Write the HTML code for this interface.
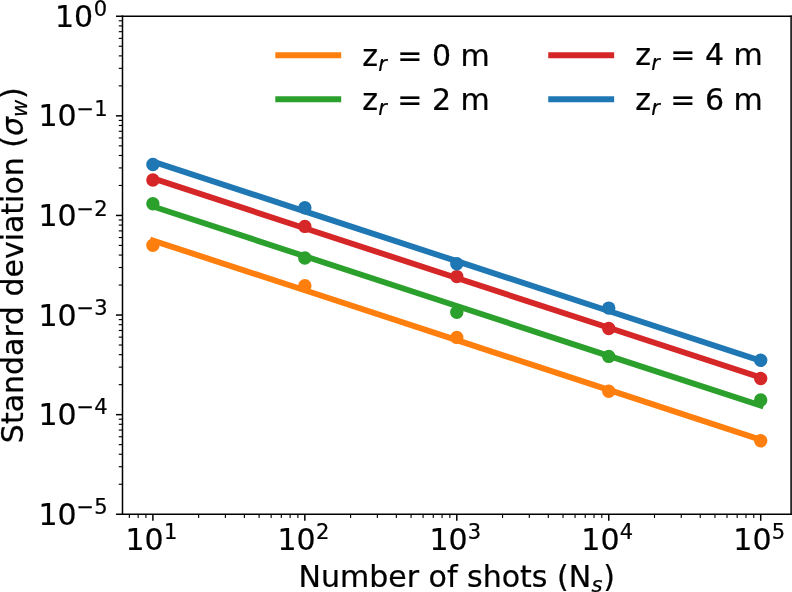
<!DOCTYPE html>
<html><head><meta charset="utf-8"><title>Standard deviation vs number of shots</title>
<style>html,body{margin:0;padding:0;background:#fff;width:792px;height:592px;overflow:hidden}svg{display:block}text{font-family:"DejaVu Sans",sans-serif;stroke:#000;stroke-width:0.13px}</style>
</head><body>
<svg width="792" height="592" viewBox="0 0 422.4 315.733333" version="1.1">
<defs>
<style type="text/css">*{stroke-linejoin: round; stroke-linecap: butt}</style>
</defs>
<g id="figure_1">
<g id="patch_1">
<path d="M 0 315.733333  L 422.4 315.733333  L 422.4 0  L 0 0  z " style="fill: #ffffff" />
</g>
<g id="axes_1">
<g id="patch_2">
<path d="M 65.333333 274.266667  L 421.92 274.266667  L 421.92 8.666667  L 65.333333 8.666667  z " style="fill: #ffffff" />
</g>
<g id="matplotlib.axis_1">
<g id="xtick_1">
<g id="line2d_1">
<g>
<path d="M 0 0  L 0 3.5  " transform="translate(81.541818 274.266667)" style="stroke: #000000; stroke-width: 0.8" /></g>
</g>
<g id="text_1" transform="translate(-0.5333 0.4800)">
<g transform="translate(67.461818 293.424167)">
<text>
<tspan x="0" y="-0.704688" style="font-size: 16px; font-family: 'DejaVu Sans'">1</tspan>
<tspan x="10.179688" y="-0.704688" style="font-size: 16px; font-family: 'DejaVu Sans'">0</tspan>
<tspan x="20.5125" y="-6.5630" style="font-size: 11.2px; font-family: 'DejaVu Sans'">1</tspan>
</text>
</g>
</g>
</g>
<g id="xtick_2">
<g id="line2d_2">
<g>
<path d="M 0 0  L 0 3.5  " transform="translate(162.584242 274.266667)" style="stroke: #000000; stroke-width: 0.8" /></g>
</g>
<g id="text_2" transform="translate(-0.5333 0.4800)">
<g transform="translate(148.504242 293.424167)">
<text>
<tspan x="0" y="-0.5625" style="font-size: 16px; font-family: 'DejaVu Sans'">1</tspan>
<tspan x="10.179688" y="-0.5625" style="font-size: 16px; font-family: 'DejaVu Sans'">0</tspan>
<tspan x="20.5125" y="-6.4208" style="font-size: 11.2px; font-family: 'DejaVu Sans'">2</tspan>
</text>
</g>
</g>
</g>
<g id="xtick_3">
<g id="line2d_3">
<g>
<path d="M 0 0  L 0 3.5  " transform="translate(243.626667 274.266667)" style="stroke: #000000; stroke-width: 0.8" /></g>
</g>
<g id="text_3" transform="translate(-0.5333 0.4800)">
<g transform="translate(229.546667 293.424167)">
<text>
<tspan x="0" y="-0.5625" style="font-size: 16px; font-family: 'DejaVu Sans'">1</tspan>
<tspan x="10.179688" y="-0.5625" style="font-size: 16px; font-family: 'DejaVu Sans'">0</tspan>
<tspan x="20.5125" y="-6.4208" style="font-size: 11.2px; font-family: 'DejaVu Sans'">3</tspan>
</text>
</g>
</g>
</g>
<g id="xtick_4">
<g id="line2d_4">
<g>
<path d="M 0 0  L 0 3.5  " transform="translate(324.669091 274.266667)" style="stroke: #000000; stroke-width: 0.8" /></g>
</g>
<g id="text_4" transform="translate(-0.5333 0.4800)">
<g transform="translate(310.589091 293.424167)">
<text>
<tspan x="0" y="-0.704688" style="font-size: 16px; font-family: 'DejaVu Sans'">1</tspan>
<tspan x="10.179688" y="-0.704688" style="font-size: 16px; font-family: 'DejaVu Sans'">0</tspan>
<tspan x="20.5125" y="-6.5630" style="font-size: 11.2px; font-family: 'DejaVu Sans'">4</tspan>
</text>
</g>
</g>
</g>
<g id="xtick_5">
<g id="line2d_5">
<g>
<path d="M 0 0  L 0 3.5  " transform="translate(405.711515 274.266667)" style="stroke: #000000; stroke-width: 0.8" /></g>
</g>
<g id="text_5" transform="translate(-0.5333 0.4800)">
<g transform="translate(391.631515 293.424167)">
<text>
<tspan x="0" y="-0.704688" style="font-size: 16px; font-family: 'DejaVu Sans'">1</tspan>
<tspan x="10.179688" y="-0.704688" style="font-size: 16px; font-family: 'DejaVu Sans'">0</tspan>
<tspan x="20.5125" y="-6.5630" style="font-size: 11.2px; font-family: 'DejaVu Sans'">5</tspan>
</text>
</g>
</g>
</g>
<g id="xtick_6">
<g id="line2d_6">
<g>
<path d="M 0 0  L 0 2  " transform="translate(68.988188 274.266667)" style="stroke: #000000; stroke-width: 0.6" /></g>
</g>
</g>
<g id="xtick_7">
<g id="line2d_7">
<g>
<path d="M 0 0  L 0 2  " transform="translate(73.687996 274.266667)" style="stroke: #000000; stroke-width: 0.6" /></g>
</g>
</g>
<g id="xtick_8">
<g id="line2d_8">
<g>
<path d="M 0 0  L 0 2  " transform="translate(77.83352 274.266667)" style="stroke: #000000; stroke-width: 0.6" /></g>
</g>
</g>
<g id="xtick_9">
<g id="line2d_9">
<g>
<path d="M 0 0  L 0 2  " transform="translate(105.938019 274.266667)" style="stroke: #000000; stroke-width: 0.6" /></g>
</g>
</g>
<g id="xtick_10">
<g id="line2d_10">
<g>
<path d="M 0 0  L 0 2  " transform="translate(120.208881 274.266667)" style="stroke: #000000; stroke-width: 0.6" /></g>
</g>
</g>
<g id="xtick_11">
<g id="line2d_11">
<g>
<path d="M 0 0  L 0 2  " transform="translate(130.334219 274.266667)" style="stroke: #000000; stroke-width: 0.6" /></g>
</g>
</g>
<g id="xtick_12">
<g id="line2d_12">
<g>
<path d="M 0 0  L 0 2  " transform="translate(138.188042 274.266667)" style="stroke: #000000; stroke-width: 0.6" /></g>
</g>
</g>
<g id="xtick_13">
<g id="line2d_13">
<g>
<path d="M 0 0  L 0 2  " transform="translate(144.605082 274.266667)" style="stroke: #000000; stroke-width: 0.6" /></g>
</g>
</g>
<g id="xtick_14">
<g id="line2d_14">
<g>
<path d="M 0 0  L 0 2  " transform="translate(150.030612 274.266667)" style="stroke: #000000; stroke-width: 0.6" /></g>
</g>
</g>
<g id="xtick_15">
<g id="line2d_15">
<g>
<path d="M 0 0  L 0 2  " transform="translate(154.73042 274.266667)" style="stroke: #000000; stroke-width: 0.6" /></g>
</g>
</g>
<g id="xtick_16">
<g id="line2d_16">
<g>
<path d="M 0 0  L 0 2  " transform="translate(158.875944 274.266667)" style="stroke: #000000; stroke-width: 0.6" /></g>
</g>
</g>
<g id="xtick_17">
<g id="line2d_17">
<g>
<path d="M 0 0  L 0 2  " transform="translate(186.980443 274.266667)" style="stroke: #000000; stroke-width: 0.6" /></g>
</g>
</g>
<g id="xtick_18">
<g id="line2d_18">
<g>
<path d="M 0 0  L 0 2  " transform="translate(201.251306 274.266667)" style="stroke: #000000; stroke-width: 0.6" /></g>
</g>
</g>
<g id="xtick_19">
<g id="line2d_19">
<g>
<path d="M 0 0  L 0 2  " transform="translate(211.376644 274.266667)" style="stroke: #000000; stroke-width: 0.6" /></g>
</g>
</g>
<g id="xtick_20">
<g id="line2d_20">
<g>
<path d="M 0 0  L 0 2  " transform="translate(219.230466 274.266667)" style="stroke: #000000; stroke-width: 0.6" /></g>
</g>
</g>
<g id="xtick_21">
<g id="line2d_21">
<g>
<path d="M 0 0  L 0 2  " transform="translate(225.647506 274.266667)" style="stroke: #000000; stroke-width: 0.6" /></g>
</g>
</g>
<g id="xtick_22">
<g id="line2d_22">
<g>
<path d="M 0 0  L 0 2  " transform="translate(231.073036 274.266667)" style="stroke: #000000; stroke-width: 0.6" /></g>
</g>
</g>
<g id="xtick_23">
<g id="line2d_23">
<g>
<path d="M 0 0  L 0 2  " transform="translate(235.772844 274.266667)" style="stroke: #000000; stroke-width: 0.6" /></g>
</g>
</g>
<g id="xtick_24">
<g id="line2d_24">
<g>
<path d="M 0 0  L 0 2  " transform="translate(239.918369 274.266667)" style="stroke: #000000; stroke-width: 0.6" /></g>
</g>
</g>
<g id="xtick_25">
<g id="line2d_25">
<g>
<path d="M 0 0  L 0 2  " transform="translate(268.022867 274.266667)" style="stroke: #000000; stroke-width: 0.6" /></g>
</g>
</g>
<g id="xtick_26">
<g id="line2d_26">
<g>
<path d="M 0 0  L 0 2  " transform="translate(282.29373 274.266667)" style="stroke: #000000; stroke-width: 0.6" /></g>
</g>
</g>
<g id="xtick_27">
<g id="line2d_27">
<g>
<path d="M 0 0  L 0 2  " transform="translate(292.419068 274.266667)" style="stroke: #000000; stroke-width: 0.6" /></g>
</g>
</g>
<g id="xtick_28">
<g id="line2d_28">
<g>
<path d="M 0 0  L 0 2  " transform="translate(300.27289 274.266667)" style="stroke: #000000; stroke-width: 0.6" /></g>
</g>
</g>
<g id="xtick_29">
<g id="line2d_29">
<g>
<path d="M 0 0  L 0 2  " transform="translate(306.68993 274.266667)" style="stroke: #000000; stroke-width: 0.6" /></g>
</g>
</g>
<g id="xtick_30">
<g id="line2d_30">
<g>
<path d="M 0 0  L 0 2  " transform="translate(312.115461 274.266667)" style="stroke: #000000; stroke-width: 0.6" /></g>
</g>
</g>
<g id="xtick_31">
<g id="line2d_31">
<g>
<path d="M 0 0  L 0 2  " transform="translate(316.815269 274.266667)" style="stroke: #000000; stroke-width: 0.6" /></g>
</g>
</g>
<g id="xtick_32">
<g id="line2d_32">
<g>
<path d="M 0 0  L 0 2  " transform="translate(320.960793 274.266667)" style="stroke: #000000; stroke-width: 0.6" /></g>
</g>
</g>
<g id="xtick_33">
<g id="line2d_33">
<g>
<path d="M 0 0  L 0 2  " transform="translate(349.065292 274.266667)" style="stroke: #000000; stroke-width: 0.6" /></g>
</g>
</g>
<g id="xtick_34">
<g id="line2d_34">
<g>
<path d="M 0 0  L 0 2  " transform="translate(363.336154 274.266667)" style="stroke: #000000; stroke-width: 0.6" /></g>
</g>
</g>
<g id="xtick_35">
<g id="line2d_35">
<g>
<path d="M 0 0  L 0 2  " transform="translate(373.461492 274.266667)" style="stroke: #000000; stroke-width: 0.6" /></g>
</g>
</g>
<g id="xtick_36">
<g id="line2d_36">
<g>
<path d="M 0 0  L 0 2  " transform="translate(381.315315 274.266667)" style="stroke: #000000; stroke-width: 0.6" /></g>
</g>
</g>
<g id="xtick_37">
<g id="line2d_37">
<g>
<path d="M 0 0  L 0 2  " transform="translate(387.732355 274.266667)" style="stroke: #000000; stroke-width: 0.6" /></g>
</g>
</g>
<g id="xtick_38">
<g id="line2d_38">
<g>
<path d="M 0 0  L 0 2  " transform="translate(393.157885 274.266667)" style="stroke: #000000; stroke-width: 0.6" /></g>
</g>
</g>
<g id="xtick_39">
<g id="line2d_39">
<g>
<path d="M 0 0  L 0 2  " transform="translate(397.857693 274.266667)" style="stroke: #000000; stroke-width: 0.6" /></g>
</g>
</g>
<g id="xtick_40">
<g id="line2d_40">
<g>
<path d="M 0 0  L 0 2  " transform="translate(402.003217 274.266667)" style="stroke: #000000; stroke-width: 0.6" /></g>
</g>
</g>
<g id="text_6" transform="translate(0.0000 1.0667)">
<g transform="translate(159.226667 312.909167)">
<text>
<tspan x="0" y="-0.84375" style="font-size: 16px; font-family: 'DejaVu Sans'">N</tspan>
<tspan x="11.96875" y="-0.84375" style="font-size: 16px; font-family: 'DejaVu Sans'">u</tspan>
<tspan x="22.109375" y="-0.84375" style="font-size: 16px; font-family: 'DejaVu Sans'">m</tspan>
<tspan x="37.695312" y="-0.84375" style="font-size: 16px; font-family: 'DejaVu Sans'">b</tspan>
<tspan x="47.851562" y="-0.84375" style="font-size: 16px; font-family: 'DejaVu Sans'">e</tspan>
<tspan x="57.695312" y="-0.84375" style="font-size: 16px; font-family: 'DejaVu Sans'">r</tspan>
<tspan x="64.273438" y="-0.84375" style="font-size: 16px; font-family: 'DejaVu Sans'"> </tspan>
<tspan x="69.359375" y="-0.84375" style="font-size: 16px; font-family: 'DejaVu Sans'">o</tspan>
<tspan x="79.148438" y="-0.84375" style="font-size: 16px; font-family: 'DejaVu Sans'">f</tspan>
<tspan x="84.78125" y="-0.84375" style="font-size: 16px; font-family: 'DejaVu Sans'"> </tspan>
<tspan x="89.867188" y="-0.84375" style="font-size: 16px; font-family: 'DejaVu Sans'">s</tspan>
<tspan x="98.203125" y="-0.84375" style="font-size: 16px; font-family: 'DejaVu Sans'">h</tspan>
<tspan x="108.34375" y="-0.84375" style="font-size: 16px; font-family: 'DejaVu Sans'">o</tspan>
<tspan x="118.132812" y="-0.84375" style="font-size: 16px; font-family: 'DejaVu Sans'">t</tspan>
<tspan x="124.40625" y="-0.84375" style="font-size: 16px; font-family: 'DejaVu Sans'">s</tspan>
<tspan x="132.742188" y="-0.84375" style="font-size: 16px; font-family: 'DejaVu Sans'"> </tspan>
<tspan x="137.828125" y="-0.84375" style="font-size: 16px; font-family: 'DejaVu Sans'">(</tspan>
<tspan x="144.070312" y="-0.84375" style="font-size: 16px; font-family: 'DejaVu Sans'">N</tspan>
<tspan x="162.464844" y="-0.84375" style="font-size: 16px; font-family: 'DejaVu Sans'">)</tspan>
<tspan x="156.192187" y="1.78125" style="font-style: oblique; font-size: 11.2px; font-family: 'DejaVu Sans'">s</tspan>
</text>
</g>
</g>
</g>
<g id="matplotlib.axis_2">
<g id="ytick_1">
<g id="line2d_41">
<g>
<path d="M 0 0  L -3.5 0  " transform="translate(65.333333 274.266667)" style="stroke: #000000; stroke-width: 0.8" /></g>
</g>
<g id="text_7" transform="translate(-0.2400 0.2133)">
<g transform="translate(20.733333 280.345417)">
<text>
<tspan x="0" y="-0.704688" style="font-size: 16px; font-family: 'DejaVu Sans'">1</tspan>
<tspan x="10.179688" y="-0.704688" style="font-size: 16px; font-family: 'DejaVu Sans'">0</tspan>
<tspan x="20.3525" y="-6.4030" style="font-size: 11.2px; font-family: 'DejaVu Sans'">−</tspan>
<tspan x="29.7369" y="-6.4030" style="font-size: 11.2px; font-family: 'DejaVu Sans'">5</tspan>
</text>
</g>
</g>
</g>
<g id="ytick_2">
<g id="line2d_42">
<g>
<path d="M 0 0  L -3.5 0  " transform="translate(65.333333 221.146667)" style="stroke: #000000; stroke-width: 0.8" /></g>
</g>
<g id="text_8" transform="translate(-0.2400 0.2133)">
<g transform="translate(20.733333 227.225417)">
<text>
<tspan x="0" y="-0.704688" style="font-size: 16px; font-family: 'DejaVu Sans'">1</tspan>
<tspan x="10.179688" y="-0.704688" style="font-size: 16px; font-family: 'DejaVu Sans'">0</tspan>
<tspan x="20.3525" y="-6.4030" style="font-size: 11.2px; font-family: 'DejaVu Sans'">−</tspan>
<tspan x="29.7369" y="-6.4030" style="font-size: 11.2px; font-family: 'DejaVu Sans'">4</tspan>
</text>
</g>
</g>
</g>
<g id="ytick_3">
<g id="line2d_43">
<g>
<path d="M 0 0  L -3.5 0  " transform="translate(65.333333 168.026667)" style="stroke: #000000; stroke-width: 0.8" /></g>
</g>
<g id="text_9" transform="translate(-0.2400 0.2133)">
<g transform="translate(20.733333 174.105417)">
<text>
<tspan x="0" y="-0.5625" style="font-size: 16px; font-family: 'DejaVu Sans'">1</tspan>
<tspan x="10.179688" y="-0.5625" style="font-size: 16px; font-family: 'DejaVu Sans'">0</tspan>
<tspan x="20.3525" y="-6.2608" style="font-size: 11.2px; font-family: 'DejaVu Sans'">−</tspan>
<tspan x="29.7369" y="-6.2608" style="font-size: 11.2px; font-family: 'DejaVu Sans'">3</tspan>
</text>
</g>
</g>
</g>
<g id="ytick_4">
<g id="line2d_44">
<g>
<path d="M 0 0  L -3.5 0  " transform="translate(65.333333 114.906667)" style="stroke: #000000; stroke-width: 0.8" /></g>
</g>
<g id="text_10" transform="translate(-0.2400 0.2133)">
<g transform="translate(20.733333 120.985417)">
<text>
<tspan x="0" y="-0.5625" style="font-size: 16px; font-family: 'DejaVu Sans'">1</tspan>
<tspan x="10.179688" y="-0.5625" style="font-size: 16px; font-family: 'DejaVu Sans'">0</tspan>
<tspan x="20.3525" y="-6.2608" style="font-size: 11.2px; font-family: 'DejaVu Sans'">−</tspan>
<tspan x="29.7369" y="-6.2608" style="font-size: 11.2px; font-family: 'DejaVu Sans'">2</tspan>
</text>
</g>
</g>
</g>
<g id="ytick_5">
<g id="line2d_45">
<g>
<path d="M 0 0  L -3.5 0  " transform="translate(65.333333 61.786667)" style="stroke: #000000; stroke-width: 0.8" /></g>
</g>
<g id="text_11" transform="translate(-0.2400 0.2133)">
<g transform="translate(20.733333 67.865417)">
<text>
<tspan x="0" y="-0.704688" style="font-size: 16px; font-family: 'DejaVu Sans'">1</tspan>
<tspan x="10.179688" y="-0.704688" style="font-size: 16px; font-family: 'DejaVu Sans'">0</tspan>
<tspan x="20.3525" y="-6.4030" style="font-size: 11.2px; font-family: 'DejaVu Sans'">−</tspan>
<tspan x="29.7369" y="-6.4030" style="font-size: 11.2px; font-family: 'DejaVu Sans'">1</tspan>
</text>
</g>
</g>
</g>
<g id="ytick_6">
<g id="line2d_46">
<g>
<path d="M 0 0  L -3.5 0  " transform="translate(65.333333 8.666667)" style="stroke: #000000; stroke-width: 0.8" /></g>
</g>
<g id="text_12" transform="translate(-0.8533 0.2133)">
<g transform="translate(30.173333 14.745417)">
<text>
<tspan x="0" y="-0.5625" style="font-size: 16px; font-family: 'DejaVu Sans'">1</tspan>
<tspan x="10.179688" y="-0.5625" style="font-size: 16px; font-family: 'DejaVu Sans'">0</tspan>
<tspan x="20.6725" y="-6.2608" style="font-size: 11.2px; font-family: 'DejaVu Sans'">0</tspan>
</text>
</g>
</g>
</g>
<g id="ytick_7">
<g id="line2d_47">
<g>
<path d="M 0 0  L -2 0  " transform="translate(65.333333 258.275953)" style="stroke: #000000; stroke-width: 0.6" /></g>
</g>
</g>
<g id="ytick_8">
<g id="line2d_48">
<g>
<path d="M 0 0  L -2 0  " transform="translate(65.333333 248.921986)" style="stroke: #000000; stroke-width: 0.6" /></g>
</g>
</g>
<g id="ytick_9">
<g id="line2d_49">
<g>
<path d="M 0 0  L -2 0  " transform="translate(65.333333 242.28524)" style="stroke: #000000; stroke-width: 0.6" /></g>
</g>
</g>
<g id="ytick_10">
<g id="line2d_50">
<g>
<path d="M 0 0  L -2 0  " transform="translate(65.333333 237.13738)" style="stroke: #000000; stroke-width: 0.6" /></g>
</g>
</g>
<g id="ytick_11">
<g id="line2d_51">
<g>
<path d="M 0 0  L -2 0  " transform="translate(65.333333 232.931272)" style="stroke: #000000; stroke-width: 0.6" /></g>
</g>
</g>
<g id="ytick_12">
<g id="line2d_52">
<g>
<path d="M 0 0  L -2 0  " transform="translate(65.333333 229.375059)" style="stroke: #000000; stroke-width: 0.6" /></g>
</g>
</g>
<g id="ytick_13">
<g id="line2d_53">
<g>
<path d="M 0 0  L -2 0  " transform="translate(65.333333 226.294527)" style="stroke: #000000; stroke-width: 0.6" /></g>
</g>
</g>
<g id="ytick_14">
<g id="line2d_54">
<g>
<path d="M 0 0  L -2 0  " transform="translate(65.333333 223.577305)" style="stroke: #000000; stroke-width: 0.6" /></g>
</g>
</g>
<g id="ytick_15">
<g id="line2d_55">
<g>
<path d="M 0 0  L -2 0  " transform="translate(65.333333 205.155953)" style="stroke: #000000; stroke-width: 0.6" /></g>
</g>
</g>
<g id="ytick_16">
<g id="line2d_56">
<g>
<path d="M 0 0  L -2 0  " transform="translate(65.333333 195.801986)" style="stroke: #000000; stroke-width: 0.6" /></g>
</g>
</g>
<g id="ytick_17">
<g id="line2d_57">
<g>
<path d="M 0 0  L -2 0  " transform="translate(65.333333 189.16524)" style="stroke: #000000; stroke-width: 0.6" /></g>
</g>
</g>
<g id="ytick_18">
<g id="line2d_58">
<g>
<path d="M 0 0  L -2 0  " transform="translate(65.333333 184.01738)" style="stroke: #000000; stroke-width: 0.6" /></g>
</g>
</g>
<g id="ytick_19">
<g id="line2d_59">
<g>
<path d="M 0 0  L -2 0  " transform="translate(65.333333 179.811272)" style="stroke: #000000; stroke-width: 0.6" /></g>
</g>
</g>
<g id="ytick_20">
<g id="line2d_60">
<g>
<path d="M 0 0  L -2 0  " transform="translate(65.333333 176.255059)" style="stroke: #000000; stroke-width: 0.6" /></g>
</g>
</g>
<g id="ytick_21">
<g id="line2d_61">
<g>
<path d="M 0 0  L -2 0  " transform="translate(65.333333 173.174527)" style="stroke: #000000; stroke-width: 0.6" /></g>
</g>
</g>
<g id="ytick_22">
<g id="line2d_62">
<g>
<path d="M 0 0  L -2 0  " transform="translate(65.333333 170.457305)" style="stroke: #000000; stroke-width: 0.6" /></g>
</g>
</g>
<g id="ytick_23">
<g id="line2d_63">
<g>
<path d="M 0 0  L -2 0  " transform="translate(65.333333 152.035953)" style="stroke: #000000; stroke-width: 0.6" /></g>
</g>
</g>
<g id="ytick_24">
<g id="line2d_64">
<g>
<path d="M 0 0  L -2 0  " transform="translate(65.333333 142.681986)" style="stroke: #000000; stroke-width: 0.6" /></g>
</g>
</g>
<g id="ytick_25">
<g id="line2d_65">
<g>
<path d="M 0 0  L -2 0  " transform="translate(65.333333 136.04524)" style="stroke: #000000; stroke-width: 0.6" /></g>
</g>
</g>
<g id="ytick_26">
<g id="line2d_66">
<g>
<path d="M 0 0  L -2 0  " transform="translate(65.333333 130.89738)" style="stroke: #000000; stroke-width: 0.6" /></g>
</g>
</g>
<g id="ytick_27">
<g id="line2d_67">
<g>
<path d="M 0 0  L -2 0  " transform="translate(65.333333 126.691272)" style="stroke: #000000; stroke-width: 0.6" /></g>
</g>
</g>
<g id="ytick_28">
<g id="line2d_68">
<g>
<path d="M 0 0  L -2 0  " transform="translate(65.333333 123.135059)" style="stroke: #000000; stroke-width: 0.6" /></g>
</g>
</g>
<g id="ytick_29">
<g id="line2d_69">
<g>
<path d="M 0 0  L -2 0  " transform="translate(65.333333 120.054527)" style="stroke: #000000; stroke-width: 0.6" /></g>
</g>
</g>
<g id="ytick_30">
<g id="line2d_70">
<g>
<path d="M 0 0  L -2 0  " transform="translate(65.333333 117.337305)" style="stroke: #000000; stroke-width: 0.6" /></g>
</g>
</g>
<g id="ytick_31">
<g id="line2d_71">
<g>
<path d="M 0 0  L -2 0  " transform="translate(65.333333 98.915953)" style="stroke: #000000; stroke-width: 0.6" /></g>
</g>
</g>
<g id="ytick_32">
<g id="line2d_72">
<g>
<path d="M 0 0  L -2 0  " transform="translate(65.333333 89.561986)" style="stroke: #000000; stroke-width: 0.6" /></g>
</g>
</g>
<g id="ytick_33">
<g id="line2d_73">
<g>
<path d="M 0 0  L -2 0  " transform="translate(65.333333 82.92524)" style="stroke: #000000; stroke-width: 0.6" /></g>
</g>
</g>
<g id="ytick_34">
<g id="line2d_74">
<g>
<path d="M 0 0  L -2 0  " transform="translate(65.333333 77.77738)" style="stroke: #000000; stroke-width: 0.6" /></g>
</g>
</g>
<g id="ytick_35">
<g id="line2d_75">
<g>
<path d="M 0 0  L -2 0  " transform="translate(65.333333 73.571272)" style="stroke: #000000; stroke-width: 0.6" /></g>
</g>
</g>
<g id="ytick_36">
<g id="line2d_76">
<g>
<path d="M 0 0  L -2 0  " transform="translate(65.333333 70.015059)" style="stroke: #000000; stroke-width: 0.6" /></g>
</g>
</g>
<g id="ytick_37">
<g id="line2d_77">
<g>
<path d="M 0 0  L -2 0  " transform="translate(65.333333 66.934527)" style="stroke: #000000; stroke-width: 0.6" /></g>
</g>
</g>
<g id="ytick_38">
<g id="line2d_78">
<g>
<path d="M 0 0  L -2 0  " transform="translate(65.333333 64.217305)" style="stroke: #000000; stroke-width: 0.6" /></g>
</g>
</g>
<g id="ytick_39">
<g id="line2d_79">
<g>
<path d="M 0 0  L -2 0  " transform="translate(65.333333 45.795953)" style="stroke: #000000; stroke-width: 0.6" /></g>
</g>
</g>
<g id="ytick_40">
<g id="line2d_80">
<g>
<path d="M 0 0  L -2 0  " transform="translate(65.333333 36.441986)" style="stroke: #000000; stroke-width: 0.6" /></g>
</g>
</g>
<g id="ytick_41">
<g id="line2d_81">
<g>
<path d="M 0 0  L -2 0  " transform="translate(65.333333 29.80524)" style="stroke: #000000; stroke-width: 0.6" /></g>
</g>
</g>
<g id="ytick_42">
<g id="line2d_82">
<g>
<path d="M 0 0  L -2 0  " transform="translate(65.333333 24.65738)" style="stroke: #000000; stroke-width: 0.6" /></g>
</g>
</g>
<g id="ytick_43">
<g id="line2d_83">
<g>
<path d="M 0 0  L -2 0  " transform="translate(65.333333 20.451272)" style="stroke: #000000; stroke-width: 0.6" /></g>
</g>
</g>
<g id="ytick_44">
<g id="line2d_84">
<g>
<path d="M 0 0  L -2 0  " transform="translate(65.333333 16.895059)" style="stroke: #000000; stroke-width: 0.6" /></g>
</g>
</g>
<g id="ytick_45">
<g id="line2d_85">
<g>
<path d="M 0 0  L -2 0  " transform="translate(65.333333 13.814527)" style="stroke: #000000; stroke-width: 0.6" /></g>
</g>
</g>
<g id="ytick_46">
<g id="line2d_86">
<g>
<path d="M 0 0  L -2 0  " transform="translate(65.333333 11.097305)" style="stroke: #000000; stroke-width: 0.6" /></g>
</g>
</g>
<g id="text_13" transform="translate(-0.5333 -0.0800)">
<g transform="translate(13.405833 236.426667) rotate(-90)">
<text>
<tspan x="0" y="-0.84375" style="font-size: 16px; font-family: 'DejaVu Sans'">S</tspan>
<tspan x="10.15625" y="-0.84375" style="font-size: 16px; font-family: 'DejaVu Sans'">t</tspan>
<tspan x="16.429688" y="-0.84375" style="font-size: 16px; font-family: 'DejaVu Sans'">a</tspan>
<tspan x="26.234375" y="-0.84375" style="font-size: 16px; font-family: 'DejaVu Sans'">n</tspan>
<tspan x="36.375" y="-0.84375" style="font-size: 16px; font-family: 'DejaVu Sans'">d</tspan>
<tspan x="46.53125" y="-0.84375" style="font-size: 16px; font-family: 'DejaVu Sans'">a</tspan>
<tspan x="56.335938" y="-0.84375" style="font-size: 16px; font-family: 'DejaVu Sans'">r</tspan>
<tspan x="62.914062" y="-0.84375" style="font-size: 16px; font-family: 'DejaVu Sans'">d</tspan>
<tspan x="73.070312" y="-0.84375" style="font-size: 16px; font-family: 'DejaVu Sans'"> </tspan>
<tspan x="78.15625" y="-0.84375" style="font-size: 16px; font-family: 'DejaVu Sans'">d</tspan>
<tspan x="88.3125" y="-0.84375" style="font-size: 16px; font-family: 'DejaVu Sans'">e</tspan>
<tspan x="98.15625" y="-0.84375" style="font-size: 16px; font-family: 'DejaVu Sans'">v</tspan>
<tspan x="107.625" y="-0.84375" style="font-size: 16px; font-family: 'DejaVu Sans'">i</tspan>
<tspan x="112.070312" y="-0.84375" style="font-size: 16px; font-family: 'DejaVu Sans'">a</tspan>
<tspan x="121.875" y="-0.84375" style="font-size: 16px; font-family: 'DejaVu Sans'">t</tspan>
<tspan x="128.148438" y="-0.84375" style="font-size: 16px; font-family: 'DejaVu Sans'">i</tspan>
<tspan x="132.59375" y="-0.84375" style="font-size: 16px; font-family: 'DejaVu Sans'">o</tspan>
<tspan x="142.382812" y="-0.84375" style="font-size: 16px; font-family: 'DejaVu Sans'">n</tspan>
<tspan x="152.523438" y="-0.84375" style="font-size: 16px; font-family: 'DejaVu Sans'"> </tspan>
<tspan x="157.609375" y="-0.84375" style="font-size: 16px; font-family: 'DejaVu Sans'">(</tspan>
<tspan x="183.589844" y="-0.84375" style="font-size: 16px; font-family: 'DejaVu Sans'">)</tspan>
<tspan x="163.851562" y="-0.84375" style="font-style: oblique; font-size: 16px; font-family: 'DejaVu Sans'">σ</tspan>
<tspan x="173.992188" y="1.78125" style="font-style: oblique; font-size: 11.2px; font-family: 'DejaVu Sans'">w</tspan>
</text>
</g>
</g>
</g>
<g id="line2d_87">
<path d="M 81.541818 128.266667  L 162.584242 154.826667  L 243.626667 181.386667  L 324.669091 207.946667  L 405.711515 234.506667  " clip-path="url(#p05ae925763)" style="fill: none; stroke: #ff7f0e; stroke-width: 3.15; stroke-linecap: square" />
</g>
<g id="line2d_88">
<g clip-path="url(#p05ae925763)">
<path d="M 0 3.075  C 0.8155 3.075 1.597708 2.750999 2.174353 2.174353  C 2.750999 1.597708 3.075 0.8155 3.075 0  C 3.075 -0.8155 2.750999 -1.597708 2.174353 -2.174353  C 1.597708 -2.750999 0.8155 -3.075 0 -3.075  C -0.8155 -3.075 -1.597708 -2.750999 -2.174353 -2.174353  C -2.750999 -1.597708 -3.075 -0.8155 -3.075 0  C -3.075 0.8155 -2.750999 1.597708 -2.174353 2.174353  C -1.597708 2.750999 -0.8155 3.075 0 3.075  z " transform="translate(81.541818 130.773333)" style="fill: #ff7f0e; stroke: #ff7f0e" /><path d="M 0 3.075  C 0.8155 3.075 1.597708 2.750999 2.174353 2.174353  C 2.750999 1.597708 3.075 0.8155 3.075 0  C 3.075 -0.8155 2.750999 -1.597708 2.174353 -2.174353  C 1.597708 -2.750999 0.8155 -3.075 0 -3.075  C -0.8155 -3.075 -1.597708 -2.750999 -2.174353 -2.174353  C -2.750999 -1.597708 -3.075 -0.8155 -3.075 0  C -3.075 0.8155 -2.750999 1.597708 -2.174353 2.174353  C -1.597708 2.750999 -0.8155 3.075 0 3.075  z " transform="translate(162.584242 152.426667)" style="fill: #ff7f0e; stroke: #ff7f0e" /><path d="M 0 3.075  C 0.8155 3.075 1.597708 2.750999 2.174353 2.174353  C 2.750999 1.597708 3.075 0.8155 3.075 0  C 3.075 -0.8155 2.750999 -1.597708 2.174353 -2.174353  C 1.597708 -2.750999 0.8155 -3.075 0 -3.075  C -0.8155 -3.075 -1.597708 -2.750999 -2.174353 -2.174353  C -2.750999 -1.597708 -3.075 -0.8155 -3.075 0  C -3.075 0.8155 -2.750999 1.597708 -2.174353 2.174353  C -1.597708 2.750999 -0.8155 3.075 0 3.075  z " transform="translate(243.626667 179.946667)" style="fill: #ff7f0e; stroke: #ff7f0e" /><path d="M 0 3.075  C 0.8155 3.075 1.597708 2.750999 2.174353 2.174353  C 2.750999 1.597708 3.075 0.8155 3.075 0  C 3.075 -0.8155 2.750999 -1.597708 2.174353 -2.174353  C 1.597708 -2.750999 0.8155 -3.075 0 -3.075  C -0.8155 -3.075 -1.597708 -2.750999 -2.174353 -2.174353  C -2.750999 -1.597708 -3.075 -0.8155 -3.075 0  C -3.075 0.8155 -2.750999 1.597708 -2.174353 2.174353  C -1.597708 2.750999 -0.8155 3.075 0 3.075  z " transform="translate(324.669091 208.693333)" style="fill: #ff7f0e; stroke: #ff7f0e" /><path d="M 0 3.075  C 0.8155 3.075 1.597708 2.750999 2.174353 2.174353  C 2.750999 1.597708 3.075 0.8155 3.075 0  C 3.075 -0.8155 2.750999 -1.597708 2.174353 -2.174353  C 1.597708 -2.750999 0.8155 -3.075 0 -3.075  C -0.8155 -3.075 -1.597708 -2.750999 -2.174353 -2.174353  C -2.750999 -1.597708 -3.075 -0.8155 -3.075 0  C -3.075 0.8155 -2.750999 1.597708 -2.174353 2.174353  C -1.597708 2.750999 -0.8155 3.075 0 3.075  z " transform="translate(405.711515 235.093333)" style="fill: #ff7f0e; stroke: #ff7f0e" /></g>
</g>
<g id="line2d_89">
<path d="M 81.541818 110.101333  L 162.584242 136.661333  L 243.626667 163.221333  L 324.669091 189.781333  L 405.711515 216.341333  " clip-path="url(#p05ae925763)" style="fill: none; stroke: #2ca02c; stroke-width: 3.15; stroke-linecap: square" />
</g>
<g id="line2d_90">
<g clip-path="url(#p05ae925763)">
<path d="M 0 3.075  C 0.8155 3.075 1.597708 2.750999 2.174353 2.174353  C 2.750999 1.597708 3.075 0.8155 3.075 0  C 3.075 -0.8155 2.750999 -1.597708 2.174353 -2.174353  C 1.597708 -2.750999 0.8155 -3.075 0 -3.075  C -0.8155 -3.075 -1.597708 -2.750999 -2.174353 -2.174353  C -2.750999 -1.597708 -3.075 -0.8155 -3.075 0  C -3.075 0.8155 -2.750999 1.597708 -2.174353 2.174353  C -1.597708 2.750999 -0.8155 3.075 0 3.075  z " transform="translate(81.541818 108.64)" style="fill: #2ca02c; stroke: #2ca02c" /><path d="M 0 3.075  C 0.8155 3.075 1.597708 2.750999 2.174353 2.174353  C 2.750999 1.597708 3.075 0.8155 3.075 0  C 3.075 -0.8155 2.750999 -1.597708 2.174353 -2.174353  C 1.597708 -2.750999 0.8155 -3.075 0 -3.075  C -0.8155 -3.075 -1.597708 -2.750999 -2.174353 -2.174353  C -2.750999 -1.597708 -3.075 -0.8155 -3.075 0  C -3.075 0.8155 -2.750999 1.597708 -2.174353 2.174353  C -1.597708 2.750999 -0.8155 3.075 0 3.075  z " transform="translate(162.584242 137.6)" style="fill: #2ca02c; stroke: #2ca02c" /><path d="M 0 3.075  C 0.8155 3.075 1.597708 2.750999 2.174353 2.174353  C 2.750999 1.597708 3.075 0.8155 3.075 0  C 3.075 -0.8155 2.750999 -1.597708 2.174353 -2.174353  C 1.597708 -2.750999 0.8155 -3.075 0 -3.075  C -0.8155 -3.075 -1.597708 -2.750999 -2.174353 -2.174353  C -2.750999 -1.597708 -3.075 -0.8155 -3.075 0  C -3.075 0.8155 -2.750999 1.597708 -2.174353 2.174353  C -1.597708 2.750999 -0.8155 3.075 0 3.075  z " transform="translate(243.626667 166.506667)" style="fill: #2ca02c; stroke: #2ca02c" /><path d="M 0 3.075  C 0.8155 3.075 1.597708 2.750999 2.174353 2.174353  C 2.750999 1.597708 3.075 0.8155 3.075 0  C 3.075 -0.8155 2.750999 -1.597708 2.174353 -2.174353  C 1.597708 -2.750999 0.8155 -3.075 0 -3.075  C -0.8155 -3.075 -1.597708 -2.750999 -2.174353 -2.174353  C -2.750999 -1.597708 -3.075 -0.8155 -3.075 0  C -3.075 0.8155 -2.750999 1.597708 -2.174353 2.174353  C -1.597708 2.750999 -0.8155 3.075 0 3.075  z " transform="translate(324.669091 190.08)" style="fill: #2ca02c; stroke: #2ca02c" /><path d="M 0 3.075  C 0.8155 3.075 1.597708 2.750999 2.174353 2.174353  C 2.750999 1.597708 3.075 0.8155 3.075 0  C 3.075 -0.8155 2.750999 -1.597708 2.174353 -2.174353  C 1.597708 -2.750999 0.8155 -3.075 0 -3.075  C -0.8155 -3.075 -1.597708 -2.750999 -2.174353 -2.174353  C -2.750999 -1.597708 -3.075 -0.8155 -3.075 0  C -3.075 0.8155 -2.750999 1.597708 -2.174353 2.174353  C -1.597708 2.750999 -0.8155 3.075 0 3.075  z " transform="translate(405.711515 213.28)" style="fill: #2ca02c; stroke: #2ca02c" /></g>
</g>
<g id="line2d_91">
<path d="M 81.541818 95.146667  L 162.584242 121.706667  L 243.626667 148.266667  L 324.669091 174.826667  L 405.711515 201.386667  " clip-path="url(#p05ae925763)" style="fill: none; stroke: #d62728; stroke-width: 3.15; stroke-linecap: square" />
</g>
<g id="line2d_92">
<g clip-path="url(#p05ae925763)">
<path d="M 0 3.075  C 0.8155 3.075 1.597708 2.750999 2.174353 2.174353  C 2.750999 1.597708 3.075 0.8155 3.075 0  C 3.075 -0.8155 2.750999 -1.597708 2.174353 -2.174353  C 1.597708 -2.750999 0.8155 -3.075 0 -3.075  C -0.8155 -3.075 -1.597708 -2.750999 -2.174353 -2.174353  C -2.750999 -1.597708 -3.075 -0.8155 -3.075 0  C -3.075 0.8155 -2.750999 1.597708 -2.174353 2.174353  C -1.597708 2.750999 -0.8155 3.075 0 3.075  z " transform="translate(81.541818 96)" style="fill: #d62728; stroke: #d62728" /><path d="M 0 3.075  C 0.8155 3.075 1.597708 2.750999 2.174353 2.174353  C 2.750999 1.597708 3.075 0.8155 3.075 0  C 3.075 -0.8155 2.750999 -1.597708 2.174353 -2.174353  C 1.597708 -2.750999 0.8155 -3.075 0 -3.075  C -0.8155 -3.075 -1.597708 -2.750999 -2.174353 -2.174353  C -2.750999 -1.597708 -3.075 -0.8155 -3.075 0  C -3.075 0.8155 -2.750999 1.597708 -2.174353 2.174353  C -1.597708 2.750999 -0.8155 3.075 0 3.075  z " transform="translate(162.584242 120.746667)" style="fill: #d62728; stroke: #d62728" /><path d="M 0 3.075  C 0.8155 3.075 1.597708 2.750999 2.174353 2.174353  C 2.750999 1.597708 3.075 0.8155 3.075 0  C 3.075 -0.8155 2.750999 -1.597708 2.174353 -2.174353  C 1.597708 -2.750999 0.8155 -3.075 0 -3.075  C -0.8155 -3.075 -1.597708 -2.750999 -2.174353 -2.174353  C -2.750999 -1.597708 -3.075 -0.8155 -3.075 0  C -3.075 0.8155 -2.750999 1.597708 -2.174353 2.174353  C -1.597708 2.750999 -0.8155 3.075 0 3.075  z " transform="translate(243.626667 147.52)" style="fill: #d62728; stroke: #d62728" /><path d="M 0 3.075  C 0.8155 3.075 1.597708 2.750999 2.174353 2.174353  C 2.750999 1.597708 3.075 0.8155 3.075 0  C 3.075 -0.8155 2.750999 -1.597708 2.174353 -2.174353  C 1.597708 -2.750999 0.8155 -3.075 0 -3.075  C -0.8155 -3.075 -1.597708 -2.750999 -2.174353 -2.174353  C -2.750999 -1.597708 -3.075 -0.8155 -3.075 0  C -3.075 0.8155 -2.750999 1.597708 -2.174353 2.174353  C -1.597708 2.750999 -0.8155 3.075 0 3.075  z " transform="translate(324.669091 175.2)" style="fill: #d62728; stroke: #d62728" /><path d="M 0 3.075  C 0.8155 3.075 1.597708 2.750999 2.174353 2.174353  C 2.750999 1.597708 3.075 0.8155 3.075 0  C 3.075 -0.8155 2.750999 -1.597708 2.174353 -2.174353  C 1.597708 -2.750999 0.8155 -3.075 0 -3.075  C -0.8155 -3.075 -1.597708 -2.750999 -2.174353 -2.174353  C -2.750999 -1.597708 -3.075 -0.8155 -3.075 0  C -3.075 0.8155 -2.750999 1.597708 -2.174353 2.174353  C -1.597708 2.750999 -0.8155 3.075 0 3.075  z " transform="translate(405.711515 201.866667)" style="fill: #d62728; stroke: #d62728" /></g>
</g>
<g id="line2d_93">
<path d="M 81.541818 86.176  L 162.584242 112.736  L 243.626667 139.296  L 324.669091 165.856  L 405.711515 192.416  " clip-path="url(#p05ae925763)" style="fill: none; stroke: #1f77b4; stroke-width: 3.15; stroke-linecap: square" />
</g>
<g id="line2d_94">
<g clip-path="url(#p05ae925763)">
<path d="M 0 3.075  C 0.8155 3.075 1.597708 2.750999 2.174353 2.174353  C 2.750999 1.597708 3.075 0.8155 3.075 0  C 3.075 -0.8155 2.750999 -1.597708 2.174353 -2.174353  C 1.597708 -2.750999 0.8155 -3.075 0 -3.075  C -0.8155 -3.075 -1.597708 -2.750999 -2.174353 -2.174353  C -2.750999 -1.597708 -3.075 -0.8155 -3.075 0  C -3.075 0.8155 -2.750999 1.597708 -2.174353 2.174353  C -1.597708 2.750999 -0.8155 3.075 0 3.075  z " transform="translate(81.541818 87.733333)" style="fill: #1f77b4; stroke: #1f77b4" /><path d="M 0 3.075  C 0.8155 3.075 1.597708 2.750999 2.174353 2.174353  C 2.750999 1.597708 3.075 0.8155 3.075 0  C 3.075 -0.8155 2.750999 -1.597708 2.174353 -2.174353  C 1.597708 -2.750999 0.8155 -3.075 0 -3.075  C -0.8155 -3.075 -1.597708 -2.750999 -2.174353 -2.174353  C -2.750999 -1.597708 -3.075 -0.8155 -3.075 0  C -3.075 0.8155 -2.750999 1.597708 -2.174353 2.174353  C -1.597708 2.750999 -0.8155 3.075 0 3.075  z " transform="translate(162.584242 110.826667)" style="fill: #1f77b4; stroke: #1f77b4" /><path d="M 0 3.075  C 0.8155 3.075 1.597708 2.750999 2.174353 2.174353  C 2.750999 1.597708 3.075 0.8155 3.075 0  C 3.075 -0.8155 2.750999 -1.597708 2.174353 -2.174353  C 1.597708 -2.750999 0.8155 -3.075 0 -3.075  C -0.8155 -3.075 -1.597708 -2.750999 -2.174353 -2.174353  C -2.750999 -1.597708 -3.075 -0.8155 -3.075 0  C -3.075 0.8155 -2.750999 1.597708 -2.174353 2.174353  C -1.597708 2.750999 -0.8155 3.075 0 3.075  z " transform="translate(243.626667 140.64)" style="fill: #1f77b4; stroke: #1f77b4" /><path d="M 0 3.075  C 0.8155 3.075 1.597708 2.750999 2.174353 2.174353  C 2.750999 1.597708 3.075 0.8155 3.075 0  C 3.075 -0.8155 2.750999 -1.597708 2.174353 -2.174353  C 1.597708 -2.750999 0.8155 -3.075 0 -3.075  C -0.8155 -3.075 -1.597708 -2.750999 -2.174353 -2.174353  C -2.750999 -1.597708 -3.075 -0.8155 -3.075 0  C -3.075 0.8155 -2.750999 1.597708 -2.174353 2.174353  C -1.597708 2.750999 -0.8155 3.075 0 3.075  z " transform="translate(324.669091 164.32)" style="fill: #1f77b4; stroke: #1f77b4" /><path d="M 0 3.075  C 0.8155 3.075 1.597708 2.750999 2.174353 2.174353  C 2.750999 1.597708 3.075 0.8155 3.075 0  C 3.075 -0.8155 2.750999 -1.597708 2.174353 -2.174353  C 1.597708 -2.750999 0.8155 -3.075 0 -3.075  C -0.8155 -3.075 -1.597708 -2.750999 -2.174353 -2.174353  C -2.750999 -1.597708 -3.075 -0.8155 -3.075 0  C -3.075 0.8155 -2.750999 1.597708 -2.174353 2.174353  C -1.597708 2.750999 -0.8155 3.075 0 3.075  z " transform="translate(405.711515 192.16)" style="fill: #1f77b4; stroke: #1f77b4" /></g>
</g>
<g id="patch_3">
<path d="M 65.333333 274.266667  L 65.333333 8.666667  " style="fill: none; stroke: #000000; stroke-width: 0.8; stroke-linejoin: miter; stroke-linecap: square" />
</g>
<g id="patch_4">
<path d="M 421.92 274.266667  L 421.92 8.666667  " style="fill: none; stroke: #000000; stroke-width: 0.8; stroke-linejoin: miter; stroke-linecap: square" />
</g>
<g id="patch_5">
<path d="M 65.333333 274.266667  L 421.92 274.266667  " style="fill: none; stroke: #000000; stroke-width: 0.8; stroke-linejoin: miter; stroke-linecap: square" />
</g>
<g id="patch_6">
<path d="M 65.333333 8.666667  L 421.92 8.666667  " style="fill: none; stroke: #000000; stroke-width: 0.8; stroke-linejoin: miter; stroke-linecap: square" />
</g>
<g id="legend_1">
<g id="line2d_95" transform="translate(-1.2000 -0.1867)">
<path d="M 149.6 29.624167  L 165.6 29.624167  L 181.6 29.624167  " style="fill: none; stroke: #ff7f0e; stroke-width: 3.15; stroke-linecap: square" />
</g>
<g id="text_14" transform="translate(-1.2000 0.0000)">
<g transform="translate(194.4 35.224167)">
<text>
<tspan x="0" y="-0.125" style="font-size: 16px; font-family: 'DejaVu Sans'">z</tspan>
<tspan x="13.59375" y="-0.125" style="font-size: 16px; font-family: 'DejaVu Sans'"> </tspan>
<tspan x="18.679688" y="-0.125" style="font-size: 16px; font-family: 'DejaVu Sans'">=</tspan>
<tspan x="32.085938" y="-0.125" style="font-size: 16px; font-family: 'DejaVu Sans'"> </tspan>
<tspan x="37.171875" y="-0.125" style="font-size: 16px; font-family: 'DejaVu Sans'">0</tspan>
<tspan x="47.351562" y="-0.125" style="font-size: 16px; font-family: 'DejaVu Sans'"> </tspan>
<tspan x="52.4375" y="-0.125" style="font-size: 16px; font-family: 'DejaVu Sans'">m</tspan>
<tspan x="8.551562" y="2.5" style="font-style: oblique; font-size: 11.2px; font-family: 'DejaVu Sans'">r</tspan>
</text>
</g>
</g>
<g id="line2d_96" transform="translate(-1.2000 -0.1867)">
<path d="M 149.6 53.109167  L 165.6 53.109167  L 181.6 53.109167  " style="fill: none; stroke: #2ca02c; stroke-width: 3.15; stroke-linecap: square" />
</g>
<g id="text_15" transform="translate(-1.2000 0.0000)">
<g transform="translate(194.4 58.709167)">
<text>
<tspan x="0" y="-0.125" style="font-size: 16px; font-family: 'DejaVu Sans'">z</tspan>
<tspan x="13.59375" y="-0.125" style="font-size: 16px; font-family: 'DejaVu Sans'"> </tspan>
<tspan x="18.679688" y="-0.125" style="font-size: 16px; font-family: 'DejaVu Sans'">=</tspan>
<tspan x="32.085938" y="-0.125" style="font-size: 16px; font-family: 'DejaVu Sans'"> </tspan>
<tspan x="37.171875" y="-0.125" style="font-size: 16px; font-family: 'DejaVu Sans'">2</tspan>
<tspan x="47.351562" y="-0.125" style="font-size: 16px; font-family: 'DejaVu Sans'"> </tspan>
<tspan x="52.4375" y="-0.125" style="font-size: 16px; font-family: 'DejaVu Sans'">m</tspan>
<tspan x="8.551562" y="2.5" style="font-style: oblique; font-size: 11.2px; font-family: 'DejaVu Sans'">r</tspan>
</text>
</g>
</g>
<g id="line2d_97" transform="translate(-0.5867 -0.1867)">
<path d="M 294.56 29.624167  L 310.56 29.624167  L 326.56 29.624167  " style="fill: none; stroke: #d62728; stroke-width: 3.15; stroke-linecap: square" />
</g>
<g id="text_16" transform="translate(-0.5867 0.0000)">
<g transform="translate(339.36 35.224167)">
<text>
<tspan x="0" y="-0.328125" style="font-size: 16px; font-family: 'DejaVu Sans'">z</tspan>
<tspan x="13.59375" y="-0.328125" style="font-size: 16px; font-family: 'DejaVu Sans'"> </tspan>
<tspan x="18.679688" y="-0.328125" style="font-size: 16px; font-family: 'DejaVu Sans'">=</tspan>
<tspan x="32.085938" y="-0.328125" style="font-size: 16px; font-family: 'DejaVu Sans'"> </tspan>
<tspan x="37.171875" y="-0.328125" style="font-size: 16px; font-family: 'DejaVu Sans'">4</tspan>
<tspan x="47.351562" y="-0.328125" style="font-size: 16px; font-family: 'DejaVu Sans'"> </tspan>
<tspan x="52.4375" y="-0.328125" style="font-size: 16px; font-family: 'DejaVu Sans'">m</tspan>
<tspan x="8.551562" y="2.296875" style="font-style: oblique; font-size: 11.2px; font-family: 'DejaVu Sans'">r</tspan>
</text>
</g>
</g>
<g id="line2d_98" transform="translate(-0.5867 -0.1867)">
<path d="M 294.56 53.109167  L 310.56 53.109167  L 326.56 53.109167  " style="fill: none; stroke: #1f77b4; stroke-width: 3.15; stroke-linecap: square" />
</g>
<g id="text_17" transform="translate(-0.5867 0.0000)">
<g transform="translate(339.36 58.709167)">
<text>
<tspan x="0" y="-0.125" style="font-size: 16px; font-family: 'DejaVu Sans'">z</tspan>
<tspan x="13.59375" y="-0.125" style="font-size: 16px; font-family: 'DejaVu Sans'"> </tspan>
<tspan x="18.679688" y="-0.125" style="font-size: 16px; font-family: 'DejaVu Sans'">=</tspan>
<tspan x="32.085938" y="-0.125" style="font-size: 16px; font-family: 'DejaVu Sans'"> </tspan>
<tspan x="37.171875" y="-0.125" style="font-size: 16px; font-family: 'DejaVu Sans'">6</tspan>
<tspan x="47.351562" y="-0.125" style="font-size: 16px; font-family: 'DejaVu Sans'"> </tspan>
<tspan x="52.4375" y="-0.125" style="font-size: 16px; font-family: 'DejaVu Sans'">m</tspan>
<tspan x="8.551562" y="2.5" style="font-style: oblique; font-size: 11.2px; font-family: 'DejaVu Sans'">r</tspan>
</text>
</g>
</g>
</g>
</g>
</g>
<defs>
<clipPath id="p05ae925763">
<rect x="65.333333" y="8.666667" width="356.586667" height="265.6" />
</clipPath>
</defs>
</svg>
</body></html>
